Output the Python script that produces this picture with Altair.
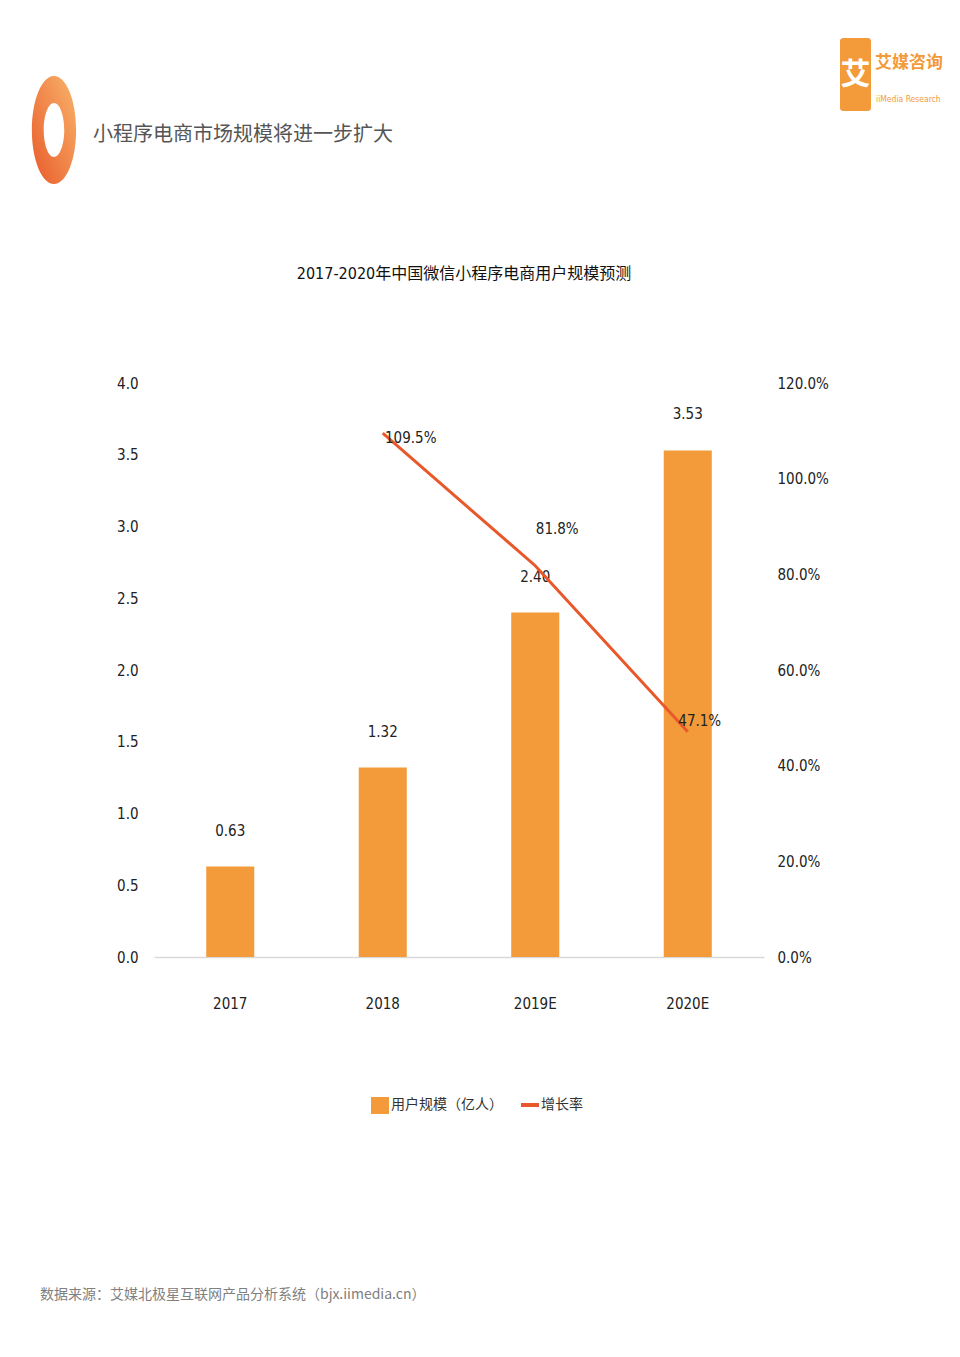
import altair as alt
import pandas as pd

# ---- data ----
CATS = ["2017", "2018", "2019E", "2020E"]
USERS = [0.63, 1.32, 2.40, 3.53]            # 用户规模（亿人）
RATES = [None, 1.095, 0.818, 0.471]          # 增长率

PAGE_TITLE = "小程序电商市场规模将进一步扩大"
CHART_TITLE = "2017-2020年中国微信小程序电商用户规模预测"
LEGEND_BAR = "用户规模（亿人）"
LEGEND_LINE = "增长率"
SOURCE = "数据来源：艾媒北极星互联网产品分析系统（bjx.iimedia.cn）"
LOGO_CN = "艾媒咨询"
LOGO_EN = "iiMedia Research"
LOGO_CHAR = "艾"

BAR_COLOR = "#F39A3A"
LINE_COLOR = "#E8582A"
NUM_FONT = "'Liberation Sans Narrow', 'DejaVu Sans Condensed', 'Noto Sans CJK SC', sans-serif"
CJK_FONT = "'Noto Sans CJK SC', sans-serif"
NUM_SIZE = 15

df = pd.DataFrame({"cat": CATS, "users": USERS, "rate": RATES})
one = pd.DataFrame({"k": [0]})

xenc = alt.X(
    "cat:N", sort=CATS, title=None,
    scale=alt.Scale(paddingInner=0.685, paddingOuter=0.3425),
    axis=alt.Axis(labelAngle=0, labelFont=NUM_FONT, labelFontSize=NUM_SIZE, labelColor="#222222",
                  labelPadding=39, ticks=False, domainColor="#D9D9D9", domainWidth=1.5,
                  grid=False),
)

yleft = alt.Scale(domain=[0, 4], nice=False)
yright = alt.Scale(domain=[0, 1.2], nice=False)

bars = alt.Chart(df).mark_bar(color=BAR_COLOR).encode(
    x=xenc,
    y=alt.Y("users:Q", scale=yleft, title=None,
            axis=alt.Axis(orient="left", values=[0, 0.5, 1, 1.5, 2, 2.5, 3, 3.5, 4], format=".1f",
                          labelFont=NUM_FONT, labelFontSize=NUM_SIZE, labelColor="#222222",
                          labelPadding=16, ticks=False, domain=False, grid=False)),
)
bar_labels = alt.Chart(df).mark_text(
    font=NUM_FONT, fontSize=NUM_SIZE, color="#222222", baseline="middle", dy=-36
).encode(
    x=alt.X("cat:N", sort=CATS),
    y=alt.Y("users:Q", scale=yleft, title=None),
    text=alt.Text("users:Q", format=".2f"),
)
left = alt.layer(bars, bar_labels)

line_base = alt.Chart(df).transform_filter("isValid(datum.rate)")
line = line_base.mark_line(color=LINE_COLOR, strokeWidth=3).encode(
    x=alt.X("cat:N", sort=CATS),
    y=alt.Y("rate:Q", scale=yright, title=None,
            axis=alt.Axis(orient="right", values=[0, 0.2, 0.4, 0.6, 0.8, 1.0, 1.2], format=".1%",
                          labelFont=NUM_FONT, labelFontSize=NUM_SIZE, labelColor="#222222",
                          labelPadding=13, ticks=False, domain=False, grid=False)),
)

def rate_label(cat, dx, dy):
    return line_base.transform_filter(alt.datum.cat == cat).mark_text(
        font=NUM_FONT, fontSize=NUM_SIZE, color="#222222", baseline="middle", dx=dx, dy=dy
    ).encode(
        x=alt.X("cat:N", sort=CATS),
        y=alt.Y("rate:Q", scale=yright, title=None),
        text=alt.Text("rate:Q", format=".1%"),
    )

right = alt.layer(line, rate_label("2018", 28, 5), rate_label("2019E", 22, -37),
                  rate_label("2020E", 12, -11))

data_layers = alt.layer(left, right).resolve_scale(y="independent")


def txt(s, x, y, size, color, align="left", font=CJK_FONT, weight="normal"):
    return alt.Chart(pd.DataFrame({"t": [s]})).mark_text(
        align=align, baseline="middle", fontSize=size, color=color, font=font, fontWeight=weight
    ).encode(x=alt.value(x), y=alt.value(y), text="t:N")


ring_path = ("M-0.41,0 A0.41,1 0 1,0 0.41,0 A0.41,1 0 1,0 -0.41,0 Z "
             "M-0.19,0 A0.19,0.5 0 1,1 0.19,0 A0.19,0.5 0 1,1 -0.19,0 Z")
ring = alt.Chart(one).mark_point(
    shape=ring_path, filled=True, opacity=1, strokeWidth=0,
    fill=alt.LinearGradient(gradient="linear", x1=1, y1=0, x2=0, y2=1,
                            stops=[alt.GradientStop(color="#F9B56C", offset=0),
                                   alt.GradientStop(color="#E85A2A", offset=1)]),
).encode(x=alt.value(-100), y=alt.value(-253), size=alt.value(11664))

logo_box = alt.Chart(one).mark_rect(color=BAR_COLOR, cornerRadius=3).encode(
    x=alt.value(686), x2=alt.value(717), y=alt.value(-345), y2=alt.value(-272))
legend_box = alt.Chart(one).mark_rect(color=BAR_COLOR).encode(
    x=alt.value(217), x2=alt.value(235), y=alt.value(714), y2=alt.value(731))
legend_line = alt.Chart(one).mark_rule(color=LINE_COLOR, strokeWidth=4).encode(
    x=alt.value(367), x2=alt.value(385), y=alt.value(722))

decor = [
    ring,
    txt(PAGE_TITLE, -61, -248, 20, "#555555"),
    logo_box,
    txt(LOGO_CHAR, 701.5, -308, 30, "#FFFFFF", align="center", weight="bold"),
    txt(LOGO_CN, 721, -320, 17, BAR_COLOR, weight="bold"),
    txt(LOGO_EN, 722, -284, 8.5, BAR_COLOR, font=NUM_FONT),
    txt(CHART_TITLE, 310, -109, 16, "#111111", align="center", font=NUM_FONT),
    legend_box,
    txt(LEGEND_BAR, 237, 722, 14, "#333333"),
    legend_line,
    txt(LEGEND_LINE, 387, 722, 14, "#333333"),
    txt(SOURCE, -114, 912, 14, "#808080"),
]

chart = alt.layer(data_layers, *decor).properties(
    width=610, height=574,
    autosize="none",
    padding={"left": 146, "top": 375, "right": 186, "bottom": 384},
    background="white",
).configure_view(stroke=None)

chart.save("out.html", embed_options={"renderer": "svg", "actions": False})
